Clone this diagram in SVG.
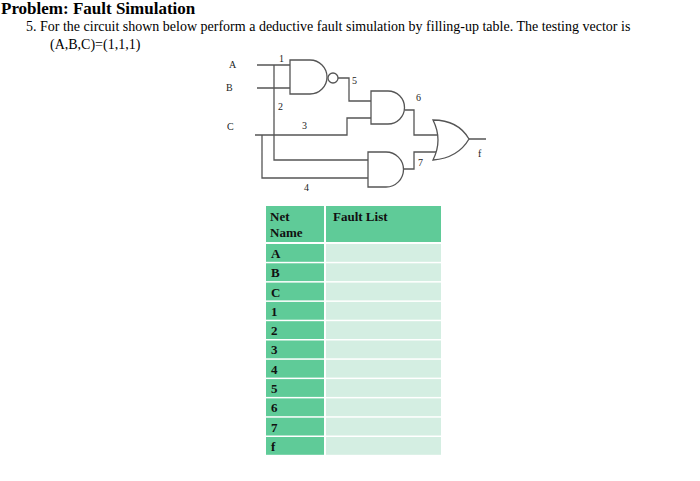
<svg xmlns="http://www.w3.org/2000/svg" width="700" height="481" viewBox="0 0 700 481">
<style>
.t{font-family:"Liberation Serif",serif;fill:#000}
.w{fill:none;stroke:#555;stroke-width:1.3}
.g{fill:#fff;stroke:#555;stroke-width:1.3}
.s{font-family:"Liberation Serif",serif;font-size:10px;fill:#222}
.hd{fill:#5fcb98}
.lc{fill:#d4eee2}
.b{font-family:"Liberation Serif",serif;font-weight:bold;font-size:13px;fill:#111}
</style>
<rect width="700" height="481" fill="#fff"/>
<text class="t" x="1" y="14" font-size="17" font-weight="bold">Problem: Fault Simulation</text>
<text class="t" x="26" y="31" font-size="14">5.  For the circuit shown below perform a deductive fault simulation by filling-up table. The testing vector is</text>
<text class="t" x="50" y="49" font-size="14">(A,B,C)=(1,1,1)</text>
<g id="connectors">
<path class="w" d="M257 65H290 M257 88H290 M274 65V160H368 M338 78H349V101H371 M255 135H347V118H371 M262 135V178H368 M405 110H414V135H440 M403 169H414V152H438 M469 139H486"/>
</g>
<g id="gate1"><path class="g" d="M290 60H310A17 17 0 0 1 310 94H290Z"/><circle class="g" cx="333" cy="78" r="5"/></g>
<g id="gate2"><path class="g" d="M371 91H388A16.5 16.5 0 0 1 388 124H371Z"/></g>
<g id="gate3"><path class="g" d="M368 152H386A17.5 17.5 0 0 1 386 187H368Z"/></g>
<g id="gate4"><path class="g" d="M433 120Q458 120 469 139Q458 158 433 160Q443 140 433 120Z"/></g>
<g id="labels">
<text class="s" x="229" y="68">A</text><text class="s" x="226" y="91">B</text><text class="s" x="227" y="130">C</text>
<text class="s" x="279" y="62">1</text><text class="s" x="352" y="84">5</text><text class="s" x="278" y="110">2</text>
<text class="s" x="302" y="129">3</text><text class="s" x="416" y="101">6</text><text class="s" x="418" y="166">7</text>
<text class="s" x="304" y="191">4</text><text class="s" x="478" y="157" fill="#334">f</text>
</g>
<g id="table">
<rect class="hd" x="266" y="206" width="58" height="36"/>
<rect class="hd" x="326" y="206" width="115" height="36"/>
<text class="b" x="270" y="221">Net</text><text class="b" x="270" y="237">Name</text>
<text class="b" x="333" y="221">Fault List</text>
<g>
<rect class="hd" x="266" y="244" width="58" height="17.8"/><rect class="lc" x="326" y="244" width="115" height="17.8"/>
<rect class="hd" x="266" y="263.3" width="58" height="17.8"/><rect class="lc" x="326" y="263.3" width="115" height="17.8"/>
<rect class="hd" x="266" y="282.6" width="58" height="17.8"/><rect class="lc" x="326" y="282.6" width="115" height="17.8"/>
<rect class="hd" x="266" y="301.9" width="58" height="17.8"/><rect class="lc" x="326" y="301.9" width="115" height="17.8"/>
<rect class="hd" x="266" y="321.2" width="58" height="17.8"/><rect class="lc" x="326" y="321.2" width="115" height="17.8"/>
<rect class="hd" x="266" y="340.5" width="58" height="17.8"/><rect class="lc" x="326" y="340.5" width="115" height="17.8"/>
<rect class="hd" x="266" y="359.8" width="58" height="17.8"/><rect class="lc" x="326" y="359.8" width="115" height="17.8"/>
<rect class="hd" x="266" y="379.1" width="58" height="17.8"/><rect class="lc" x="326" y="379.1" width="115" height="17.8"/>
<rect class="hd" x="266" y="398.4" width="58" height="17.8"/><rect class="lc" x="326" y="398.4" width="115" height="17.8"/>
<rect class="hd" x="266" y="417.7" width="58" height="17.8"/><rect class="lc" x="326" y="417.7" width="115" height="17.8"/>
<rect class="hd" x="266" y="437" width="58" height="17.8"/><rect class="lc" x="326" y="437" width="115" height="17.8"/>
</g>
<text class="b" x="271" y="258">A</text><text class="b" x="271" y="277">B</text><text class="b" x="271" y="297">C</text>
<text class="b" x="271" y="316">1</text><text class="b" x="271" y="335">2</text><text class="b" x="271" y="354">3</text>
<text class="b" x="271" y="374">4</text><text class="b" x="271" y="393">5</text><text class="b" x="271" y="412">6</text>
<text class="b" x="271" y="432">7</text><text class="b" x="271" y="451">f</text>
</g>
</svg>
